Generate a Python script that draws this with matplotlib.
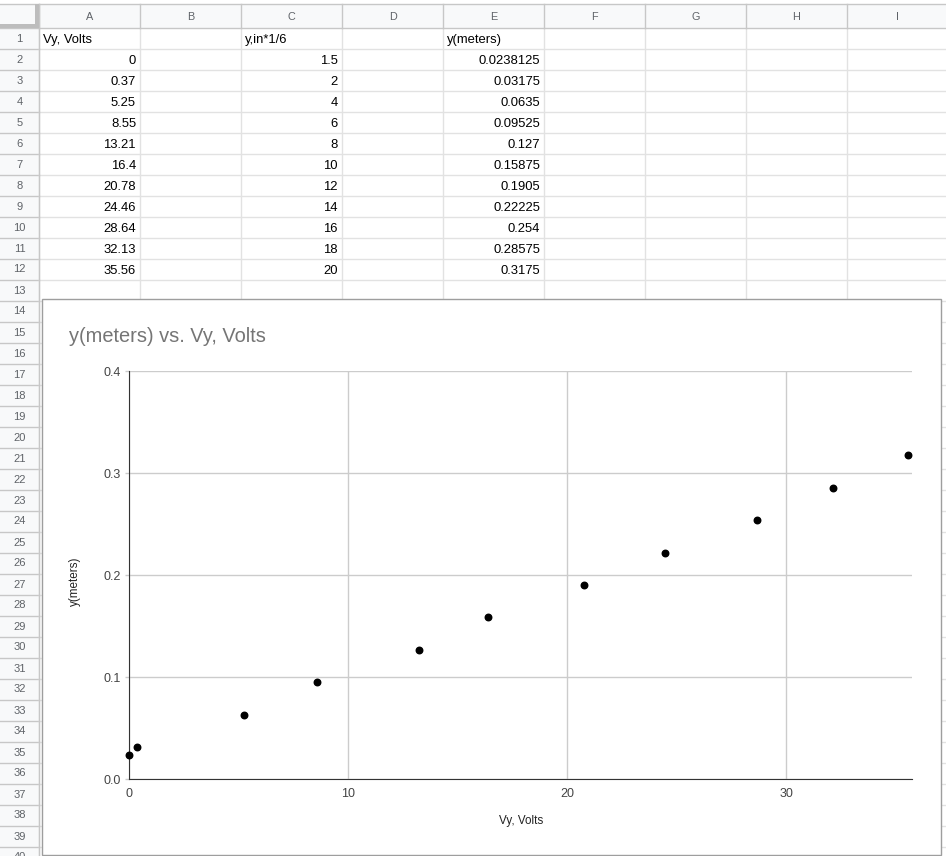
import numpy as np
import matplotlib
matplotlib.use("Agg")
from matplotlib import pyplot as plt
from matplotlib.patches import Rectangle

plt.rcParams['font.family'] = ['Liberation Sans', 'DejaVu Sans']

# sheet data
col_letters = ["A", "B", "C", "D", "E", "F", "G", "H", "I"]
headers = ["Vy, Volts", "y,in*1/6", "y(meters)"]
vy_volts = [0, 0.37, 5.25, 8.55, 13.21, 16.4, 20.78, 24.46, 28.64, 32.13, 35.56]
y_sixteenths = [1.5, 2, 4, 6, 8, 10, 12, 14, 16, 18, 20]
y_meters = [0.0238125, 0.03175, 0.0635, 0.09525, 0.127, 0.15875, 0.1905,
            0.22225, 0.254, 0.28575, 0.3175]

W, H = 946, 856
fig = plt.figure(figsize=(W / 100, H / 100), dpi=100)

# background axes in pixel coords for the spreadsheet grid
bg = fig.add_axes([0, 0, 1, 1])
bg.set_xlim(0, W)
bg.set_ylim(H, 0)
bg.axis("off")

hdr_top, hdr_bot = 4, 28
row_h = 21
rn_w = 39
col_w = 101
n_rows = 40

# header strips
bg.add_patch(Rectangle((0, hdr_top), W, hdr_bot - hdr_top, fc="#f8f9fa", ec="none"))
bg.add_patch(Rectangle((0, hdr_bot), rn_w, H - hdr_bot, fc="#f8f9fa", ec="none"))

# cell grid
for r in range(1, n_rows + 1):
    y = hdr_bot + r * row_h
    bg.plot([rn_w, W], [y, y], color="#e2e2e2", lw=1, zorder=1)
    bg.plot([0, rn_w], [y, y], color="#c7c7c7", lw=1, zorder=1)
    bg.text(rn_w / 2, y - row_h / 2, str(r), ha="center", va="center",
            fontsize=8, color="#5f6368")
for c in range(len(col_letters) + 1):
    x = rn_w + c * col_w
    bg.plot([x, x], [hdr_bot, H], color="#e2e2e2", lw=1, zorder=1)
    bg.plot([x, x], [hdr_top, hdr_bot], color="#c7c7c7", lw=1, zorder=1)
for c, letter in enumerate(col_letters):
    bg.text(rn_w + c * col_w + col_w / 2, (hdr_top + hdr_bot) / 2 + 1, letter,
            ha="center", va="center", fontsize=7.8, color="#5f6368")

bg.plot([0, W], [hdr_top, hdr_top], color="#c7c7c7", lw=1, zorder=2)
bg.plot([0, W], [hdr_bot, hdr_bot], color="#c7c7c7", lw=1, zorder=2)
bg.plot([rn_w, rn_w], [hdr_top, H], color="#c7c7c7", lw=1, zorder=2)
# frozen corner bars
bg.add_patch(Rectangle((rn_w - 4, hdr_top), 4, hdr_bot - hdr_top, fc="#bdbdbd", ec="none", zorder=3))
bg.add_patch(Rectangle((0, hdr_bot - 4), rn_w, 4, fc="#bdbdbd", ec="none", zorder=3))

# cell contents
def row_mid(r):
    return hdr_bot + (r - 1) * row_h + row_h / 2 + 1

for ci, col in zip([0, 2, 4], headers):
    bg.text(rn_w + ci * col_w + 4, row_mid(1), col, ha="left", va="center",
            fontsize=9.4, color="black")
for ci, vals in zip([0, 2, 4], [vy_volts, y_sixteenths, y_meters]):
    for i, v in enumerate(vals):
        bg.text(rn_w + (ci + 1) * col_w - 4, row_mid(i + 2), f"{v:g}",
                ha="right", va="center", fontsize=9.4, color="black")

# chart box
box_l, box_t, box_r, box_b = 41.5, 298.5, 940.5, 855.5
bg.add_patch(Rectangle((box_l, box_t), box_r - box_l, box_b - box_t,
                       fc="white", ec="#9e9e9e", lw=1, zorder=5))
bg.text(69, 337, "y(meters) vs. Vy, Volts", ha="left", va="center",
        fontsize=14.4, color="#757575", zorder=6)

# chart plot area
pl, pr, pt, pb = 129.3, 912.3, 371.3, 779.3
ax = fig.add_axes([pl / W, 1 - pb / H, (pr - pl) / W, (pb - pt) / H])
ax.set_facecolor("white")
ax.scatter(vy_volts, y_meters, s=22, color="black", zorder=4, clip_on=False)
ax.set_xlim(0, 35.75)
ax.set_ylim(0, 0.4)
ax.set_xticks([0, 10, 20, 30])
ax.set_yticks([0.0, 0.1, 0.2, 0.3, 0.4])
ax.set_yticklabels(["0.0", "0.1", "0.2", "0.3", "0.4"])
ax.grid(True, color="#cccccc", lw=1)
ax.set_axisbelow(True)
for s in ["top", "right"]:
    ax.spines[s].set_visible(False)
ax.spines["left"].set_color("#333333")
ax.spines["bottom"].set_color("#333333")
ax.tick_params(axis="x", length=0, pad=6, labelsize=9, labelcolor="#444444")
ax.tick_params(axis="y", length=3, width=1, color="#cccccc", pad=3,
               labelsize=9, labelcolor="#444444")
ax.set_xlabel("Vy, Volts", fontsize=8.4, color="#222222")
ax.set_ylabel("y(meters)", fontsize=8.4, color="#222222")
ax.xaxis.set_label_coords(0.5, -(821 - pb) / (pb - pt))
ax.xaxis.label.set_va("center")
ax.yaxis.set_label_coords((75 - pl) / (pr - pl), (pb - 581) / (pb - pt))
ax.yaxis.label.set_va("center")

fig.savefig("out.png", dpi=100)
